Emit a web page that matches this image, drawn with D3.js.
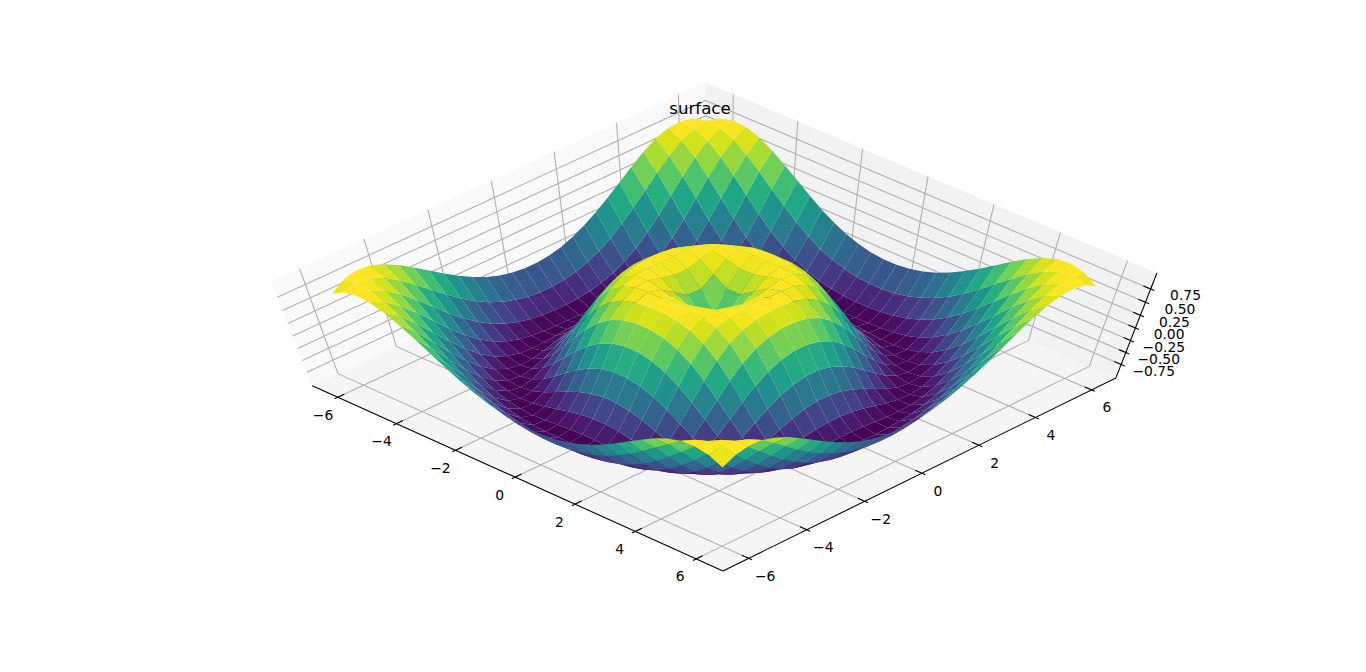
<!DOCTYPE html>
<html>
<head>
<meta charset="utf-8">
<script src="https://cdnjs.cloudflare.com/ajax/libs/d3/7.8.5/d3.min.js"></script>
<style>
  body { margin: 0; background: #fff; }
  text { font-family: "DejaVu Sans", sans-serif; fill: #000; }
</style>
</head>
<body>
<svg id="chart" width="1366" height="672"></svg>
<script>
var titleText = "surface";
var xTicks = [-6, -4, -2, 0, 2, 4, 6];
var yTicks = [-6, -4, -2, 0, 2, 4, 6];
var zTicks = [-0.75, -0.5, -0.25, 0, 0.25, 0.5, 0.75];
var zTickLabels = ["\u22120.75", "\u22120.50", "\u22120.25", "0.00", "0.25", "0.50", "0.75"];

var gridCoords = [-6, -5.586, -5.172, -4.759, -4.345, -3.931, -3.517, -3.103, -2.69, -2.276,
  -1.862, -1.448, -1.034, -0.621, -0.207, 0.207, 0.621, 1.034, 1.448, 1.862,
  2.276, 2.69, 3.103, 3.517, 3.931, 4.345, 4.759, 5.172, 5.586, 6];

// the surface is mirror symmetric, so one quadrant of heights is kept, centre first
var zQuadrant = [
  [.288, .609, .870, .994, .954, .756, .430, .031, -.373, -.714, -.935, -.999, -.894, -.639, -.276],
  [.609, .769, .934, 1.00, .924, .705, .372, -.023, -.417, -.743, -.948, -.996, -.879, -.615, -.249],
  [.870, .934, .994, .978, .848, .598, .257, -.129, -.501, -.798, -.970, -.988, -.846, -.566, -.194],
  [.994, 1.00, .978, .888, .705, .430, .087, -.279, -.615, -.866, -.991, -.966, -.791, -.490, -.111],
  [.954, .924, .848, .705, .487, .200, -.129, -.460, -.743, -.935, -1.00, -.922, -.707, -.385, -.001],
  [.756, .705, .598, .430, .200, -.077, -.373, -.649, -.866, -.986, -.982, -.846, -.591, -.249, .133],
  [.430, .372, .257, .087, -.129, -.373, -.615, -.822, -.960, -.999, -.922, -.729, -.438, -.083, .288],
  [.031, -.023, -.129, -.279, -.460, -.649, -.822, -.948, -1.00, -.957, -.810, -.566, -.249, .107, .455],
  [-.373, -.417, -.501, -.615, -.743, -.866, -.960, -1.00, -.966, -.846, -.639, -.358, -.028, .313, .622],
  [-.714, -.743, -.798, -.866, -.935, -.986, -.999, -.957, -.846, -.662, -.411, -.111, .212, .521, .777],
  [-.935, -.948, -.970, -.991, -1.00, -.982, -.922, -.810, -.639, -.411, -.138, .160, .455, .713, .902],
  [-.999, -.996, -.988, -.966, -.922, -.846, -.729, -.566, -.358, -.111, .160, .432, .678, .870, .981],
  [-.894, -.879, -.846, -.791, -.707, -.591, -.438, -.249, -.028, .212, .455, .678, .858, .971, .998],
  [-.639, -.615, -.566, -.490, -.385, -.249, -.083, .107, .313, .521, .713, .870, .971, .999, .941],
  [-.276, -.249, -.194, -.111, -.001, .133, .288, .455, .622, .777, .902, .981, .998, .941, .807]
];
var zRows = zQuadrant.slice().reverse().concat(zQuadrant).map(function(row) {
  return row.slice().reverse().concat(row);
});

var xyLim = [-6.6, 6.6];
var zLim = [-1, 1];
var elev = 69 * Math.PI / 180;
var azim = -46.2 * Math.PI / 180;
var dist = 10;

var worldXY = d3.scaleLinear().domain(xyLim).range([0, 1]);
var worldZ = d3.scaleLinear().domain(zLim).range([0, 1]);
var screenX = d3.scaleLinear().domain([-0.95 / dist, 0.9 / dist]).range([170.75, 1229.25]);
var screenY = d3.scaleLinear().domain([-0.95 / dist, 0.9 / dist]).range([597.44, 80.64]);

var right = [-Math.sin(azim), Math.cos(azim), 0];
var up = [-Math.sin(elev) * Math.cos(azim), -Math.sin(elev) * Math.sin(azim), Math.cos(elev)];
var toEye = [Math.cos(elev) * Math.cos(azim), Math.cos(elev) * Math.sin(azim), Math.sin(elev)];

function dot(a, b) { return a[0] * b[0] + a[1] * b[1] + a[2] * b[2]; }

function project(x, y, z) {
  var p = [worldXY(x) - 0.5, worldXY(y) - 0.5, worldZ(z) - 0.5];
  var w = dist - dot(p, toEye);
  return [screenX(dot(p, right) / w), screenY(dot(p, up) / w), w];
}

var svg = d3.select("#chart");
var line = d3.line();

// pane box sits a bit outside the limits
var dXY = (xyLim[1] - xyLim[0]) / 12, dZ = (zLim[1] - zLim[0]) / 12;
var x0 = xyLim[0] - dXY / 4, x1 = xyLim[1] + dXY / 4;
var z0 = zLim[0] - dZ / 4, z1 = zLim[1] + dZ / 4;

function path3d(points, closed) {
  var pts = points.map(function(p) { return project(p[0], p[1], p[2]).slice(0, 2); });
  return line(pts) + (closed ? "Z" : "");
}

var panes = [
  { color: "#f9f9f9", pts: [[x0, x0, z0], [x0, x1, z0], [x0, x1, z1], [x0, x0, z1]] },
  { color: "#f2f2f2", pts: [[x0, x1, z0], [x1, x1, z0], [x1, x1, z1], [x0, x1, z1]] },
  { color: "#f5f5f5", pts: [[x0, x0, z0], [x1, x0, z0], [x1, x1, z0], [x0, x1, z0]] }
];
svg.append("g").selectAll("path").data(panes).enter().append("path")
  .attr("d", function(d) { return path3d(d.pts, true); })
  .attr("fill", function(d) { return d.color; });

var gridLines = [];
xTicks.forEach(function(t) { gridLines.push([[t, x0, z0], [t, x1, z0], [t, x1, z1]]); });
yTicks.forEach(function(t) { gridLines.push([[x1, t, z0], [x0, t, z0], [x0, t, z1]]); });
zTicks.forEach(function(t) { gridLines.push([[x0, x0, t], [x0, x1, t], [x1, x1, t]]); });
svg.append("g").selectAll("path").data(gridLines).enter().append("path")
  .attr("d", function(d) { return path3d(d, false); })
  .attr("fill", "none")
  .attr("stroke", "#b0b0b0")
  .attr("stroke-width", 1.1);

var axisLines = [
  [[x0, x0, z0], [x1, x0, z0]],
  [[x1, x0, z0], [x1, x1, z0]],
  [[x1, x1, z0], [x1, x1, z1]]
];
svg.append("g").selectAll("path").data(axisLines).enter().append("path")
  .attr("d", function(d) { return path3d(d, false); })
  .attr("fill", "none")
  .attr("stroke", "#000")
  .attr("stroke-width", 1.1);

// ticks run 0.1 delta outward and 0.2 delta inward of the edge
var tickMarks = [];
xTicks.forEach(function(t) { tickMarks.push([[t, x0 - 0.1 * dXY, z0], [t, x0 + 0.2 * dXY, z0]]); });
yTicks.forEach(function(t) { tickMarks.push([[x1 + 0.1 * dXY, t, z0], [x1 - 0.2 * dXY, t, z0]]); });
zTicks.forEach(function(t) { tickMarks.push([[x1 + 0.1 * dXY, x1, t], [x1 - 0.2 * dXY, x1, t]]); });
svg.append("g").selectAll("path").data(tickMarks).enter().append("path")
  .attr("d", function(d) { return path3d(d, false); })
  .attr("fill", "none")
  .attr("stroke", "#000")
  .attr("stroke-width", 1.1);

var labelPad = 0.5;
var labelDrop = 6.5;
var tickFmt = function(v) { return String(v).replace("-", "\u2212"); };
var tickLabels = [];
xTicks.forEach(function(t) {
  tickLabels.push({ text: tickFmt(t), pos: [t, x0 - labelPad * dXY, z0 - labelPad * dZ] });
});
yTicks.forEach(function(t) {
  tickLabels.push({ text: tickFmt(t), pos: [x1 + labelPad * dXY, t, z0 - labelPad * dZ] });
});
zTicks.forEach(function(t, i) {
  tickLabels.push({ text: zTickLabels[i], pos: [x1 + labelPad * dXY, x1 + labelPad * dXY, t] });
});
svg.append("g").selectAll("text").data(tickLabels).enter().append("text")
  .attr("x", function(d) { return project(d.pos[0], d.pos[1], d.pos[2])[0]; })
  .attr("y", function(d) { return project(d.pos[0], d.pos[1], d.pos[2])[1] + labelDrop; })
  .attr("text-anchor", "middle")
  .attr("dominant-baseline", "central")
  .style("font-size", "13.89px")
  .text(function(d) { return d.text; });

// faces coloured by mean height, painted back to front
var faces = [];
for (var i = 0; i < gridCoords.length - 1; i++) {
  for (var j = 0; j < gridCoords.length - 1; j++) {
    var corners = [[i, j], [i, j + 1], [i + 1, j + 1], [i + 1, j]].map(function(c) {
      return project(gridCoords[c[1]], gridCoords[c[0]], zRows[c[0]][c[1]]).concat(zRows[c[0]][c[1]]);
    });
    faces.push({
      pts: corners.map(function(c) { return [c[0], c[1]]; }),
      depth: d3.mean(corners, function(c) { return c[2]; }),
      height: d3.mean(corners, function(c) { return c[3]; })
    });
  }
}
faces.sort(function(a, b) { return d3.descending(a.depth, b.depth); });

var color = d3.scaleSequential(d3.interpolateViridis).domain(d3.extent(faces, function(f) { return f.height; }));

svg.append("g").selectAll("path").data(faces).enter().append("path")
  .attr("d", function(d) { return line(d.pts) + "Z"; })
  .attr("fill", function(d) { return color(d.height); });

svg.append("text")
  .attr("x", 700)
  .attr("y", 114)
  .attr("text-anchor", "middle")
  .style("font-size", "16.67px")
  .text(titleText);
</script>
</body>
</html>
